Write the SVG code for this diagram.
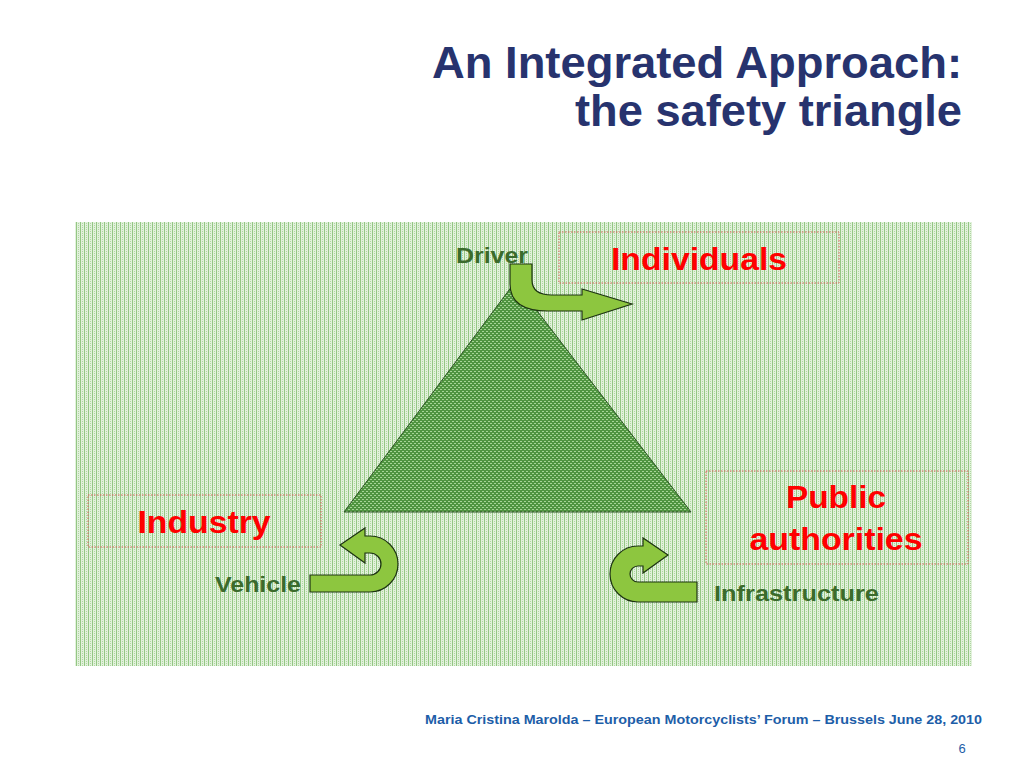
<svg xmlns="http://www.w3.org/2000/svg" width="1024" height="768" viewBox="0 0 1024 768">
<defs>
<pattern id="bg" width="4" height="4" patternUnits="userSpaceOnUse">
<rect width="4" height="4" fill="#e2f1dc"/>
<rect x="0" y="0" width="1" height="4" fill="#94c784"/>
<rect x="2" y="1" width="1" height="1" fill="#afd7a0"/>
<rect x="2" y="3" width="1" height="1" fill="#afd7a0"/>
</pattern>
<pattern id="tri" width="4" height="4" patternUnits="userSpaceOnUse">
<rect width="4" height="4" fill="#4f9440"/>
<rect x="0" y="1" width="2" height="1" fill="#a6d596"/>
<rect x="2" y="3" width="2" height="1" fill="#a6d596"/>
</pattern>
<style>
.box{fill:none;stroke:#d9605a;stroke-width:1;stroke-dasharray:1.5 1.5}
.red{font-family:"Liberation Sans",Arial,sans-serif;font-weight:bold;fill:#ff0000;font-size:32px;text-anchor:middle}
.lbl{font-family:"Liberation Sans",Arial,sans-serif;font-weight:bold;fill:#3b6b2c;font-size:22px}
.title{font-family:"Liberation Sans",Arial,sans-serif;font-weight:bold;fill:#27336e;font-size:44px;text-anchor:end}
.arrow{fill:#8dc63f;stroke:#1d3412;stroke-width:1.2;stroke-linejoin:miter}
</style>
</defs>
<rect width="1024" height="768" fill="#ffffff"/>
<g id="title">
<text class="title" x="962" y="78" textLength="530" lengthAdjust="spacingAndGlyphs">An Integrated Approach:</text>
<text class="title" x="962" y="126" textLength="387" lengthAdjust="spacingAndGlyphs">the safety triangle</text>
</g>
<rect id="panel" x="75" y="222" width="897" height="444" fill="url(#bg)"/>
<g id="triangle">
<polygon points="515,282 691,512 344,512" fill="url(#tri)" stroke="#2a5222" stroke-width="1"/>
</g>
<g id="connectors">
<path class="arrow" d="M510,264 L532,264 L532,280 Q532,295 552,295 L582,295 L582,289 L632,304 L582,320 L582,311 L548,311 Q510,311 510,284 Z"/>
<path class="arrow" d="M310,575 L370,575 A11,11 0 0 0 370,553 L365,553 L365,563 L340,545 L365,528 L365,536 L370,536 A28,28 0 0 1 370,592 L310,592 Z"/>
<path class="arrow" d="M697,582 L638,582 A8,8 0 0 1 638,566 L643,566 L643,573 L668,555 L643,538 L643,546 L638,546 A28,28 0 0 0 638,602 L697,602 Z"/>
</g>
<g id="driver"><text class="lbl" x="456" y="263" textLength="72" lengthAdjust="spacingAndGlyphs">Driver</text></g>
<g id="vehicle"><text class="lbl" x="215" y="592" textLength="86" lengthAdjust="spacingAndGlyphs">Vehicle</text></g>
<g id="infrastructure"><text class="lbl" x="714" y="601" textLength="165" lengthAdjust="spacingAndGlyphs">Infrastructure</text></g>
<g id="individuals">
<rect class="box" x="559" y="232" width="280" height="51"/>
<text class="red" x="699" y="270" textLength="176" lengthAdjust="spacingAndGlyphs">Individuals</text>
</g>
<g id="industry">
<rect class="box" x="88" y="495" width="233" height="52"/>
<text class="red" x="204" y="533" textLength="133" lengthAdjust="spacingAndGlyphs">Industry</text>
</g>
<g id="public-authorities">
<rect class="box" x="706" y="471" width="262" height="93"/>
<text class="red" x="836" y="508" textLength="100" lengthAdjust="spacingAndGlyphs">Public</text>
<text class="red" x="836" y="550" textLength="173" lengthAdjust="spacingAndGlyphs">authorities</text>
</g>
<g id="footer">
<text x="425" y="724" font-family="'Liberation Sans',Arial,sans-serif" font-weight="bold" font-size="13" fill="#1d5ea8" textLength="557" lengthAdjust="spacingAndGlyphs">Maria Cristina Marolda –  European Motorcyclists’ Forum – Brussels June 28, 2010</text>
<text x="962" y="753" font-family="'Liberation Sans',Arial,sans-serif" font-size="13" fill="#1d5ea8" text-anchor="middle">6</text>
</g>
</svg>
